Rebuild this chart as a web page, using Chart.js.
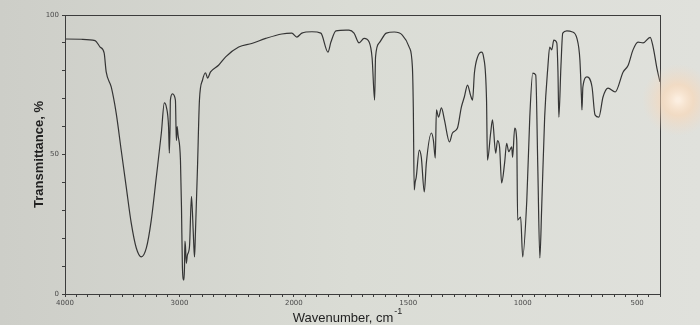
<!DOCTYPE html>
<html>
<head>
<meta charset="utf-8">
<script src="https://cdn.jsdelivr.net/npm/chart.js@4.4.1/dist/chart.umd.min.js"></script>
<style>
  html, body { margin: 0; padding: 0; background: #d6d8d1; }
  #wrap { width: 700px; height: 325px; }
</style>
</head>
<body>
<div id="wrap"><canvas id="irChart" width="700" height="325"></canvas></div>
<script>
// IR spectrum. Wavenumber in cm-1, transmittance in %.
const wavenumbers = [
  4000, 3860, 3737, 3693, 3658, 3640, 3596, 3553, 3509, 3465, 3421, 3377, 3333,
  3289, 3246, 3202, 3158, 3132, 3114, 3095, 3088, 3082, 3079, 3061, 3035, 3030,
  3026, 3020, 3012, 2991, 2982, 2974, 2962, 2956, 2952, 2947, 2940, 2930, 2912,
  2895, 2886, 2875, 2868, 2860, 2842, 2825, 2798, 2772, 2754, 2728, 2658, 2596,
  2482, 2368, 2246, 2105, 2018,
  1987, 1965, 1921, 1882, 1851, 1838, 1816, 1772, 1759, 1737, 1715, 1693, 1671,
  1658, 1647, 1643, 1627, 1596, 1561, 1526, 1496, 1482, 1478, 1474, 1470, 1465,
  1452, 1443, 1430, 1421, 1399, 1390, 1382, 1377, 1368, 1355, 1342, 1320, 1307,
  1285, 1268, 1255, 1241, 1228, 1219, 1211, 1197, 1180, 1171, 1158, 1154, 1140,
  1132, 1118, 1110, 1101, 1092, 1079, 1070, 1061, 1048, 1044, 1035, 1026, 1022,
  1009, 1000, 982, 969, 956, 943, 934, 925, 917, 904, 890, 882, 873, 864, 851,
  846, 842, 833, 825, 807, 785, 763, 750, 743, 741, 737, 719, 697, 684, 667, 649,
  627, 596, 561, 539, 518, 496, 474, 443, 430, 412, 400
];
const transmittance = [
  91.4, 91.3, 90.8, 88.5, 86.4, 79.6, 74.2, 64.9, 51.6, 38.4, 25.4, 16.5, 13.3,
  16.5, 26.5, 41.9, 57.7, 68.5, 67, 60, 50.5, 60, 69.5, 71.7, 69.5, 60,
  55, 60, 57, 48, 31, 9.7, 5, 9, 19, 17, 11, 14, 17,
  35, 29, 18, 13.3, 22, 45.5, 69.5, 76.7, 79.3, 77.4, 79.6, 82, 85,
  88.5, 89.8, 91.6, 93.2, 93.5,
  92.1, 93.5, 94, 93.5, 86.7, 90.3, 94.3, 94.6, 94.6, 93.5, 90, 91.6, 90.3,
  84.6, 69.5, 85, 90, 93.5, 93.9, 92.8, 88.5, 81.4, 67, 37.3, 40, 42,
  51.6, 49, 36.6, 47, 57.7, 55, 48.7, 66, 63.4, 66.7, 62.4, 54.5, 57.7,
  59.5, 67, 70.6, 74.9, 71.3, 69.5, 79.2, 85, 86.7, 85, 69.5, 48, 57.7,
  62.4, 50.5, 55, 52.7, 39.8, 47, 54, 51, 52.7, 49, 59.5, 55, 26.5,
  27.6, 13.3, 33.7, 63.4, 79.2, 78.5, 45.5, 12.9, 31, 63.4, 81.4, 88.5, 87.5, 91, 90,
  80, 63.4, 81.4, 93.5, 94.3, 94, 91.6, 83.9, 70, 66, 74.2, 77.8, 74.2, 64.2, 63.4, 70.6,
  73.8, 72.4, 79.6, 82, 87.5, 90.3, 90, 92, 88.5, 80.3, 76
];
const xTickLabels = [4000, 3000, 2000, 1500, 1000, 500];
const yTickLabels = [0, 50, 100];

// the wavenumber axis is split: 4000-2000 is drawn at half the scale of 2000-400
function toPos(w) { return w >= 2000 ? (4000 - w) / 2 : 3000 - w; }
function fromPos(p) { return p <= 1000 ? 4000 - 2 * p : 3000 - p; }

const points = wavenumbers.map((w, i) => ({ x: toPos(w), y: transmittance[i] }));

const backdrop = {
  id: 'backdrop',
  beforeDraw(chart) {
    const ctx = chart.ctx;
    const g = ctx.createLinearGradient(0, 0, 700, 0);
    g.addColorStop(0, '#cdcec8');
    g.addColorStop(0.5, '#dadcd5');
    g.addColorStop(1, '#e0e1dc');
    ctx.save();
    ctx.fillStyle = g;
    ctx.fillRect(0, 0, chart.width, chart.height);
    ctx.restore();
  },
  afterDraw(chart) {
    const ctx = chart.ctx;
    const a = chart.chartArea;
    ctx.save();
    // frame round the plot
    ctx.strokeStyle = '#3c3c3c';
    ctx.lineWidth = 1;
    ctx.strokeRect(a.left + 0.5, a.top + 0.5, a.right - a.left, a.bottom - a.top);
    // x axis title with superscript
    ctx.fillStyle = '#222';
    ctx.textBaseline = 'alphabetic';
    ctx.font = '13px "Liberation Sans", Arial, sans-serif';
    const main = 'Wavenumber, cm';
    const mw = ctx.measureText(main).width;
    ctx.font = '9px "Liberation Sans", Arial, sans-serif';
    const sw = ctx.measureText('-1').width;
    const x0 = 347 - (mw + sw) / 2;
    ctx.font = '13px "Liberation Sans", Arial, sans-serif';
    ctx.fillText(main, x0, 322);
    ctx.font = '9px "Liberation Sans", Arial, sans-serif';
    ctx.fillText('-1', x0 + mw + 1, 314);
    // lamp glare on the right edge of the photo
    const r = ctx.createRadialGradient(678, 100, 2, 678, 100, 36);
    r.addColorStop(0, 'rgba(255,240,225,0.9)');
    r.addColorStop(0.4, 'rgba(252,215,180,0.6)');
    r.addColorStop(1, 'rgba(245,215,190,0)');
    ctx.fillStyle = r;
    ctx.fillRect(630, 55, 70, 95);
    ctx.restore();
  }
};

const config = {
  type: 'line',
  data: {
    datasets: [{
      data: points,
      borderColor: '#353535',
      borderWidth: 1.2,
      pointRadius: 0,
      cubicInterpolationMode: 'monotone',
      fill: false
    }]
  },
  options: {
    responsive: false,
    animation: false,
    layout: { padding: { top: 15, right: 40, left: 0, bottom: 0 } },
    plugins: { legend: { display: false }, tooltip: { enabled: false } },
    scales: {
      x: {
        type: 'linear',
        min: 0,
        max: toPos(400),
        offset: false,
        afterFit(scale) { scale.height = 31; },
        border: { color: '#3c3c3c' },
        grid: { drawOnChartArea: false, drawTicks: true, tickLength: 3, tickColor: '#3c3c3c' },
        ticks: {
          stepSize: 50,
          autoSkip: false,
          maxRotation: 0,
          padding: 2,
          color: '#4a4a4a',
          font: { size: 7, family: '"DejaVu Sans", sans-serif' },
          callback(value) {
            const w = Math.round(fromPos(value));
            return xTickLabels.includes(w) ? String(w) : '';
          }
        }
      },
      y: {
        min: 0,
        max: 100,
        afterFit(scale) { scale.width = 65; },
        border: { color: '#3c3c3c' },
        grid: { drawOnChartArea: false, drawTicks: true, tickLength: 3, tickColor: '#3c3c3c' },
        title: {
          display: true,
          text: 'Transmittance, %',
          color: '#222',
          font: { size: 13, weight: 'bold', family: '"Liberation Sans", Arial, sans-serif' },
          padding: { top: 32, bottom: 0 }
        },
        ticks: {
          stepSize: 10,
          padding: 3,
          color: '#4a4a4a',
          font: { size: 7, family: '"DejaVu Sans", sans-serif' },
          callback(value) { return yTickLabels.includes(value) ? String(value) : ''; }
        }
      }
    }
  },
  plugins: [backdrop]
};

const irChart = new Chart(document.getElementById('irChart'), config);
</script>
</body>
</html>
